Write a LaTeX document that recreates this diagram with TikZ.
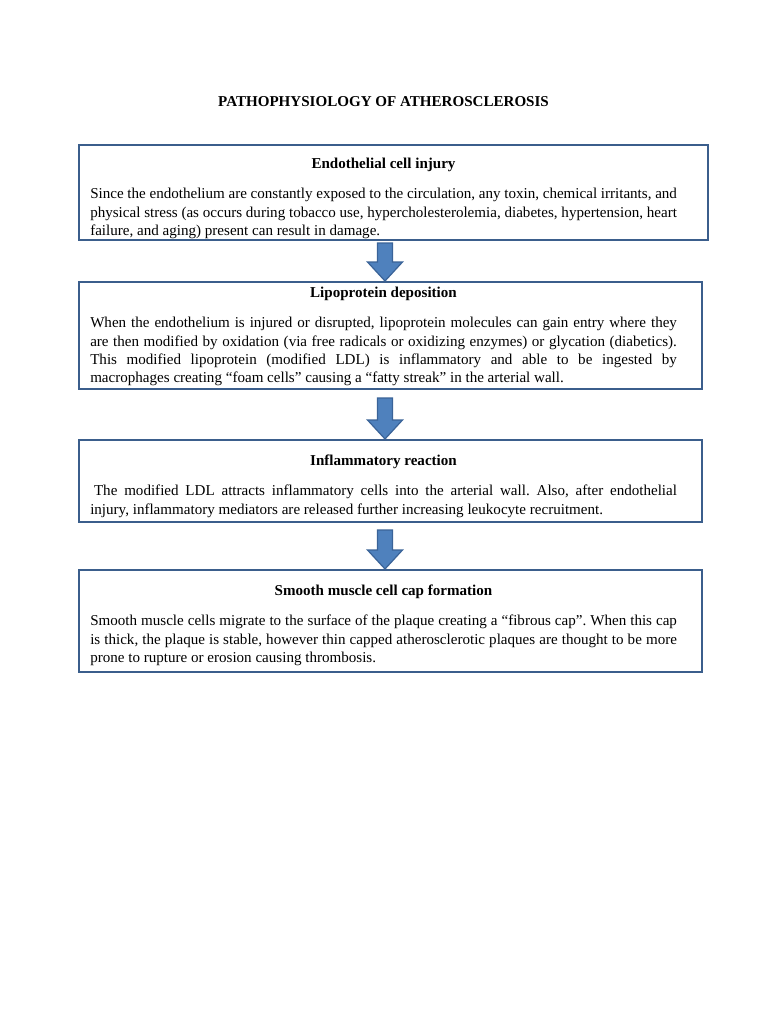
\documentclass[tikz,border=0pt]{standalone}
\usepackage{fontspec}
\setmainfont{Liberation Serif}
\usetikzlibrary{calc}
\newdimen\px \px=0.75pt
\definecolor{bordc}{HTML}{3B5E8C}
\definecolor{arrfill}{HTML}{4F81BD}
\definecolor{arrline}{HTML}{3A6398}
\setlength\parindent{0pt}
\frenchspacing
\tikzset{
  boxst/.style={draw=bordc, line width=1.7pt, fill=white, inner sep=0pt, anchor=north west},
  headst/.style={anchor=base, inner sep=0pt, font=\fontsize{11.3}{13.8}\selectfont\bfseries},
  bodyst/.style={anchor=north west, inner sep=0pt, text width=440pt, align=justify, font=\fontsize{11.3}{13.8}\selectfont\frenchspacing},
  barrow/.style={fill=arrfill, draw=arrline, line width=0.9pt, line join=miter}
}
\newcommand\blockarrow[2]{%
  \draw[barrow] ($(#1)+(-7.5,0)$) -- ($(#2)+(-7.5,-19)$) -- ($(#2)+(-17.5,-19)$) -- (#2)
    -- ($(#2)+(17.5,-19)$) -- ($(#2)+(7.5,-19)$) -- ($(#1)+(7.5,0)$) -- cycle;}
\begin{document}
\begin{tikzpicture}[x=0.75pt, y=-0.75pt]
\useasboundingbox[fill=white] (0,0) rectangle (768,1024);

\node[headst] (title) at (383.5,106) {PATHOPHYSIOLOGY OF ATHEROSCLEROSIS};

% Box 1
\node[boxst, minimum width=629\px, minimum height=95\px] (b1) at (78,144) {};
\node[headst] (h1) at (383.5,168) {Endothelial cell injury};
\node[bodyst] (p1) at (90,185.6) {\strut Since the endothelium are constantly exposed to the circulation, any toxin, chemical irritants, and\linebreak
physical stress (as occurs during tobacco use, hypercholesterolemia, diabetes, hypertension, heart\linebreak
failure, and aging) present can result in damage.};

% Box 2
\node[boxst, minimum width=623\px, minimum height=107\px] (b2) at (78,281) {};
\node[headst] (h2) at (383.5,297) {Lipoprotein deposition};
\node[bodyst] (p2) at (90,314.6) {\strut When the endothelium is injured or disrupted, lipoprotein molecules can gain entry where they\linebreak
are then modified by oxidation (via free radicals or oxidizing enzymes) or glycation (diabetics).\linebreak
This modified lipoprotein (modified LDL) is inflammatory and able to be ingested by\linebreak
macrophages creating “foam cells” causing a “fatty streak” in the arterial wall.};

% Box 3
\node[boxst, minimum width=623\px, minimum height=82\px] (b3) at (78,439) {};
\node[headst] (h3) at (383.5,465) {Inflammatory reaction};
\node[bodyst] (p3) at (90,482.6) {\strut\hspace*{0.25em}The modified LDL attracts inflammatory cells into the arterial wall. Also, after endothelial\linebreak
injury, inflammatory mediators are released further increasing leukocyte recruitment.};

% Box 4
\node[boxst, minimum width=623\px, minimum height=102\px] (b4) at (78,569) {};
\node[headst] (h4) at (383.5,595) {Smooth muscle cell cap formation};
\node[bodyst] (p4) at (90,612.6) {\strut Smooth muscle cells migrate to the surface of the plaque creating a “fibrous cap”. When this cap\linebreak
is thick, the plaque is stable, however thin capped atherosclerotic plaques are thought to be more\linebreak
prone to rupture or erosion causing thrombosis.};

% Arrows
\coordinate (s1) at (385,243);
\coordinate (e1) at (b2.north -| s1);
\blockarrow{s1}{e1}
\coordinate (s2) at (385,398);
\coordinate (e2) at (b3.north -| s2);
\blockarrow{s2}{e2}
\coordinate (s3) at (385,530);
\coordinate (e3) at (b4.north -| s3);
\blockarrow{s3}{e3}
\end{tikzpicture}
\end{document}
